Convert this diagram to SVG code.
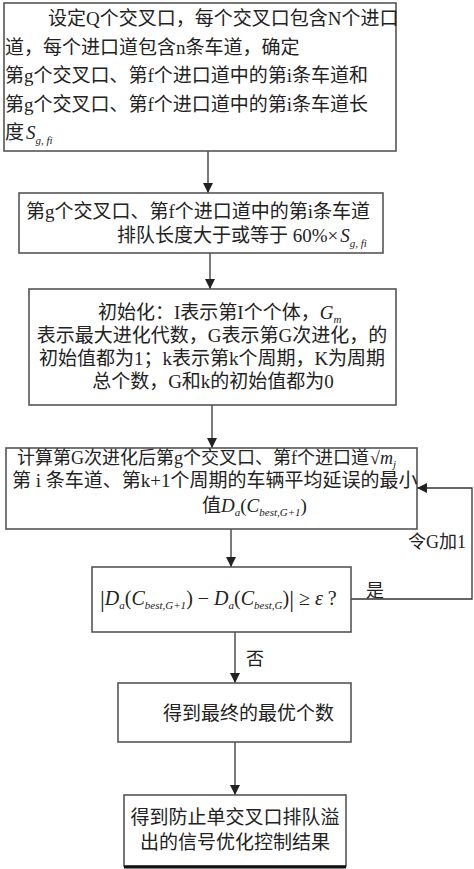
<svg xmlns="http://www.w3.org/2000/svg" width="474" height="869" viewBox="0 0 474 869">
<defs>
<marker id="ah" viewBox="0 0 10 10" refX="10" refY="5" markerWidth="10" markerHeight="10" markerUnits="userSpaceOnUse" orient="auto">
<path d="M0,0 L10,5 L0,10 z" fill="#222"/>
</marker>
</defs>
<style>
.box{fill:#fff;stroke:#555;stroke-width:1.6}
.t{font-family:"Liberation Serif","Noto Sans CJK SC",serif;font-size:19px;fill:#222}
.m{font-family:"Liberation Serif",serif;font-style:italic}
.s{font-size:11px}
.c{stroke:#333;stroke-width:1.3;fill:none}
.lbl{font-family:"Liberation Serif","Noto Sans CJK SC",serif;font-size:18px;fill:#222}
</style>
<rect width="474" height="869" fill="#fff"/>
<g id="connectors">
<line class="c" x1="208" y1="151" x2="208" y2="193" marker-end="url(#ah)"/>
<line class="c" x1="210" y1="253" x2="210" y2="289" marker-end="url(#ah)"/>
<line class="c" x1="212" y1="405" x2="212" y2="448" marker-end="url(#ah)"/>
<line class="c" x1="231" y1="529" x2="231" y2="567" marker-end="url(#ah)"/>
<polyline class="c" points="351,599 472,599 472,488 417,488" marker-end="url(#ah)"/>
<line class="c" x1="235" y1="632" x2="235" y2="683" marker-end="url(#ah)"/>
<line class="c" x1="235" y1="742" x2="235" y2="795" marker-end="url(#ah)"/>
<text class="lbl" x="408" y="548">令G加1</text>
<text class="lbl" x="366" y="597">是</text>
<text class="lbl" x="246" y="665">否</text>
</g>
<g id="n1">
<rect class="box" x="4" y="3" width="392" height="148"/>
<text class="t" x="48" y="25">设定Q个交叉口，每个交叉口包含N个进口</text>
<text class="t" x="5" y="54">道，每个进口道包含n条车道，确定</text>
<text class="t" x="5" y="82">第g个交叉口、第f个进口道中的第i条车道和</text>
<text class="t" x="5" y="111">第g个交叉口、第f个进口道中的第i条车道长</text>
<text class="t" x="5" y="139">度<tspan class="m" dx="2">S</tspan><tspan class="m s" dy="5">g, fi</tspan></text>
</g>
<g id="n2">
<rect class="box" x="19" y="193" width="364" height="60"/>
<text class="t" x="26" y="218">第g个交叉口、第f个进口道中的第i条车道</text>
<text class="t" x="117" y="242">排队长度大于或等于 60%×<tspan class="m" dx="2">S</tspan><tspan class="m s" dy="5">g, fi</tspan></text>
</g>
<g id="n3">
<rect class="box" x="29" y="289" width="367" height="116"/>
<text class="t" x="98" y="319">初始化：I表示第I个个体，<tspan class="m">G</tspan><tspan class="m s" dy="4">m</tspan></text>
<text class="t" x="212" y="342" text-anchor="middle">表示最大进化代数，G表示第G次进化，的</text>
<text class="t" x="212" y="365" text-anchor="middle">初始值都为1；k表示第k个周期，K为周期</text>
<text class="t" x="213" y="388" text-anchor="middle">总个数，G和k的初始值都为0</text>
</g>
<g id="n4">
<rect class="box" x="6" y="448" width="411" height="81"/>
<text class="t" x="17" y="464" style="font-size:18px">计算第G次进化后第g个交叉口、第f个进口道<tspan dx="1">√</tspan><tspan class="m">m</tspan><tspan class="m s" dy="4">j</tspan></text>
<text class="t" x="12" y="487">第 i 条车道、第k+1个周期的车辆平均延误的最小</text>
<text class="t" x="202" y="512">值<tspan class="m">D</tspan><tspan class="m s" dy="4">a</tspan><tspan dy="-4">(</tspan><tspan class="m">C</tspan><tspan class="m s" dy="4">best,G+1</tspan><tspan dy="-4">)</tspan></text>
</g>
<g id="n5">
<rect class="box" x="92" y="567" width="259" height="65"/>
<text class="t" x="100" y="605" style="font-size:20px"><tspan style="font-size:24px" dy="2">|</tspan><tspan class="m" dy="-2">D</tspan><tspan class="m s" dy="4">a</tspan><tspan dy="-4">(</tspan><tspan class="m">C</tspan><tspan class="m s" dy="4">best,G+1</tspan><tspan dy="-4">) − </tspan><tspan class="m">D</tspan><tspan class="m s" dy="4">a</tspan><tspan dy="-4">(</tspan><tspan class="m">C</tspan><tspan class="m s" dy="4">best,G</tspan><tspan dy="-4">)</tspan><tspan style="font-size:24px" dy="2">|</tspan><tspan dy="-2"> ≥ </tspan><tspan class="m">ε</tspan><tspan> ?</tspan></text>
</g>
<g id="n6">
<rect class="box" x="118" y="683" width="233" height="59"/>
<text class="t" x="163" y="720">得到最终的最优个数</text>
</g>
<g id="n7">
<rect class="box" x="124" y="795" width="222" height="71"/>
<line x1="124" y1="867" x2="346" y2="867" stroke="#111" stroke-width="3"/>
<text class="t" x="235" y="824" text-anchor="middle">得到防止单交叉口排队溢</text>
<text class="t" x="235" y="849" text-anchor="middle">出的信号优化控制结果</text>
</g>
</svg>
